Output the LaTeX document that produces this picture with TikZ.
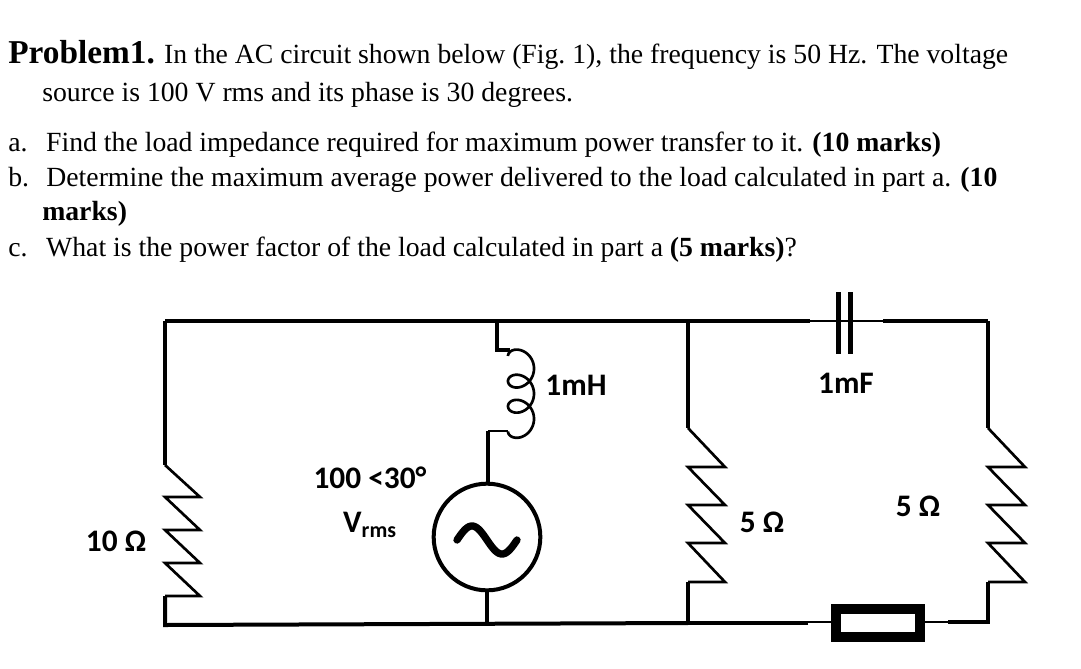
\documentclass[tikz,border=0pt]{standalone}
\usepackage{fontspec}
\setmainfont{Liberation Serif}
\newfontfamily\carlfont{Carlito}
\begin{document}
\begin{tikzpicture}[x=0.75pt,y=-0.75pt,
  wire/.style={line width=3pt},
  zz/.style={line width=2pt},
  lbl/.style={font=\carlfont\fontsize{23.5}{26}\selectfont\bfseries},
  txt/.style={anchor=base west,inner sep=0,font=\fontsize{20.8}{23}\selectfont}]
\useasboundingbox (0,0) rectangle (1081,668);
% text
\node[txt] (p1) at (8,63) {{\fontsize{25}{27}\selectfont\bfseries Problem1.} In the AC circuit shown below (Fig.~1), the frequency is 50 Hz. The voltage};
\node[txt] (p2) at (42,101) {source is 100 V rms and its phase is 30 degrees.};
\node[txt] (pa) at (8,151) {a.\hspace{14pt}Find the load impedance required for maximum power transfer to it. \textbf{(10 marks)}};
\node[txt] (pb) at (8,186) {b.\hspace{13pt}Determine the maximum average power delivered to the load calculated in part a. \textbf{(10}};
\node[txt] (pb2) at (42,220) {\textbf{marks)}};
\node[txt] (pc) at (8,256) {c.\hspace{14pt}What is the power factor of the load calculated in part a \textbf{(5 marks)}?};
% coordinates
\coordinate (tl) at (165,321); \coordinate (bl) at (165,625);
\coordinate (tm) at (688,321); \coordinate (bm) at (688,623);
\coordinate (tr) at (988,321); \coordinate (br) at (988,622);
% top wire
\draw[wire] (tl) -- (810,321) (883,321) -- (tr);
\draw[line width=1.5pt] (810,321) -- (883,321);
\node[draw,fill=black,minimum width=3pt,minimum height=46pt,inner sep=0] (c1) at (838,323) {};
\node[draw,fill=black,minimum width=3pt,minimum height=46pt,inner sep=0] (c2) at (850,323) {};
% left branch
\draw[wire] (tl) -- (165,465);
\draw[zz] (165,465) -- (200,497) -- (165,497) -- (200,530) -- (165,530) -- (200,563) -- (165,563) -- (200,596) -- (165,596);
\draw[wire] (165,596) -- (bl) -- (bm);
% middle branch
\draw[wire] (tm) -- (688,428);
\draw[zz] (688,428) -- (725,467) -- (688,467) -- (725,505) -- (688,505) -- (725,543) -- (688,543) -- (725,582) -- (688,582);
\draw[wire] (688,582) -- (bm);
% right branch
\draw[wire] (tr) -- (988,428);
\draw[zz] (988,428) -- (1025,467) -- (988,467) -- (1025,505) -- (988,505) -- (1025,543) -- (988,543) -- (1025,582) -- (988,582);
\draw[wire] (988,582) -- (br) -- (948,622);
\draw[line width=1.5pt] (948,622) -- (808,622);
\draw[wire] (808,623) -- (bm);
\node[draw,fill=white,line width=8pt,minimum width=63pt,minimum height=21pt,inner sep=0] (load) at (878,623) {};
% inductor + source
\draw[wire] (497,321) -- (497,350) -- (510,350);
\draw[line width=2pt,domain=0:1080,samples=200,smooth] plot ({521-13*cos(\x)},{356+4*rad(\x)-6*sin(\x)-6*sin(\x)});
\draw[line width=2pt] (508,431) -- (488,431);
\draw[wire] (488,431) -- (488,482);
\node[draw,circle,line width=3pt,minimum size=80pt,inner sep=0] (src) at (487,537) {};
\draw[line width=5.5pt,line cap=round,domain=0:360,samples=60,smooth] plot ({457+\x/360*60},{540-14*sin(\x)});
\draw[wire] (src.south) -- (487,625);
% labels
\node[lbl] (l1) at (576,385) {1mH};
\node[lbl] (l2) at (846,383) {1mF};
\node[lbl] (l3) at (370,478) {100 <30°};
\node[lbl] (l4) at (370,525) {V\textsubscript{rms}};
\node[lbl] (l5) at (116,541) {10 Ω};
\node[lbl] (l6) at (762,522) {5 Ω};
\node[lbl] (l7) at (918,506) {5 Ω};
\end{tikzpicture}
\end{document}
